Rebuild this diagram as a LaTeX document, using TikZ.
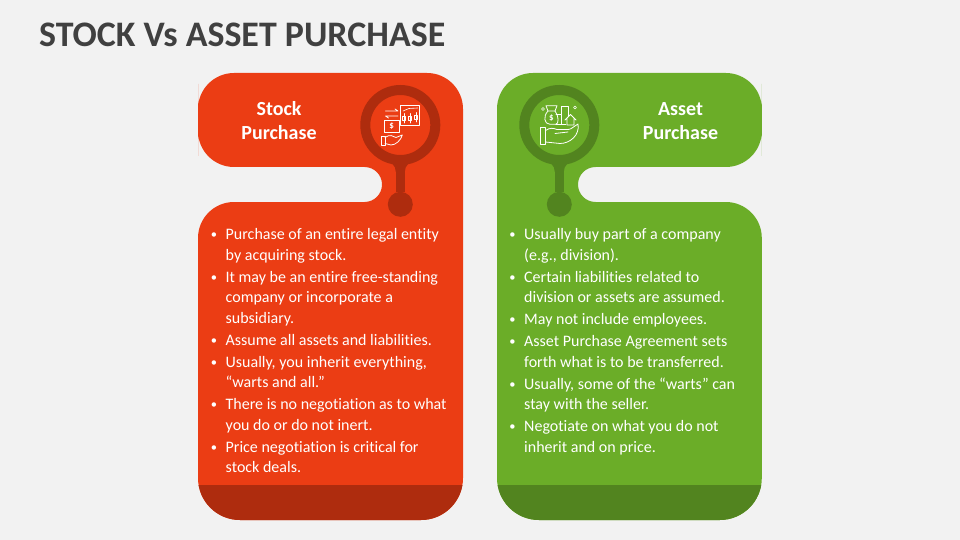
\documentclass[tikz,border=0pt]{standalone}
\usepackage{fontspec}
\setmainfont{Carlito}[Ligatures=NoCommon]
\usepackage{tikz}
\usetikzlibrary{positioning,calc}
\definecolor{pagegray}{RGB}{242,242,242}
\definecolor{titlegray}{RGB}{64,64,64}
\definecolor{stockred}{RGB}{235,61,20}
\definecolor{stockdark}{RGB}{174,44,14}
\definecolor{assetgreen}{RGB}{107,173,40}
\definecolor{assetdark}{RGB}{82,132,31}
\newcommand{\pointlines}[1]{\strut\llap{\raisebox{0.9pt}{\fontsize{12.5}{12.5}\selectfont\textbullet}\hspace{8.5pt}}#1\strut}
\tikzset{
  headtext/.style={text=white, font=\fontsize{20}{24}\selectfont\bfseries, align=center},
  pointtext/.style={text=white, font=\fontsize{16}{20.6}\selectfont, align=left, inner sep=0pt, anchor=north west},
  nextpoint/.style={below=0.9pt of #1.south west, anchor=north west},
  iconline/.style={draw=white, line width=0.8pt, line join=round, line cap=round},
}
\begin{document}
\begin{tikzpicture}[x=1pt, y=-1pt]
    \useasboundingbox[fill=pagegray] (0,0) rectangle (960,540);
    \node[text=titlegray, font=\fontsize{35.9}{40}\selectfont\bfseries, inner sep=0pt, anchor=west] (title) at (39,35) {STOCK Vs ASSET PURCHASE};

    % Panels
    \fill[stockred, rounded corners=36] (198,120) -- (198,73) -- (463,73) -- (463,300)
        [rounded corners=42] -- (463,520) -- (198,520) -- (198,300)
        [rounded corners=36] -- (198,202) -- (300,202) [rounded corners=17.5] -- (382,202) -- (382,167) -- (300,167)
        [rounded corners=36] -- (198,167) -- cycle;
    \begin{scope}
        \clip (150,485) rectangle (480,530);
        \fill[stockdark, rounded corners=42] (198,300) rectangle (463,520);
    \end{scope}
    \fill[assetgreen, rounded corners=36] (761.8,120) -- (761.8,73) -- (497,73) -- (497,300)
        [rounded corners=42] -- (497,520) -- (761.8,520) -- (761.8,300)
        [rounded corners=36] -- (761.8,202) -- (660,202) [rounded corners=17.5] -- (578,202) -- (578,167) -- (660,167)
        [rounded corners=36] -- (761.8,167) -- cycle;
    \begin{scope}
        \clip (490,485) rectangle (800,530);
        \fill[assetdark, rounded corners=42] (497,300) rectangle (761.8,520);
    \end{scope}

    % Pins
    \node[circle, draw=stockdark, line width=10pt, minimum size=70pt, inner sep=0pt] (stockring) at (400.3,125) {};
    \node[circle, fill=stockdark, minimum size=25pt, inner sep=0pt] (stockdot) at (400.3,204.3) {};
    \fill[stockdark] (384,159) .. controls (391,162) and (395.8,165) .. (395.8,172) -- (404.8,172) .. controls (404.8,165) and (409.6,162) .. (416.6,159) -- cycle;
    \draw[stockdark, line width=9pt] (stockring) -- (stockdot);
    \node[circle, draw=assetdark, line width=10pt, minimum size=70pt, inner sep=0pt] (assetring) at (559.3,125) {};
    \node[circle, fill=assetdark, minimum size=25pt, inner sep=0pt] (assetdot) at (559.3,204.3) {};
    \fill[assetdark] (543,159) .. controls (550,162) and (554.8,165) .. (554.8,172) -- (563.8,172) .. controls (563.8,165) and (568.6,162) .. (575.6,159) -- cycle;
    \draw[assetdark, line width=9pt] (assetring) -- (assetdot);

    % Heads
    \node[headtext] (stockhead) at (279,120.5) {Stock\\Purchase};
    \node[headtext] (assethead) at (680.5,121) {Asset\\Purchase};

    % Stock points
    \node[pointtext] (s1) at (225.5,225) {\pointlines{Purchase of an entire legal entity\\by acquiring stock.}};
    \node[pointtext, nextpoint=s1] (s2) {\pointlines{It may be an entire free-standing\\company or incorporate a\\subsidiary.}};
    \node[pointtext, nextpoint=s2] (s3) {\pointlines{Assume all assets and liabilities.}};
    \node[pointtext, nextpoint=s3] (s4) {\pointlines{Usually, you inherit everything,\\“warts and all.”}};
    \node[pointtext, nextpoint=s4] (s5) {\pointlines{There is no negotiation as to what\\you do or do not inert.}};
    \node[pointtext, nextpoint=s5] (s6) {\pointlines{Price negotiation is critical for\\stock deals.}};

    % Asset points
    \node[pointtext] (a1) at (524,225) {\pointlines{Usually buy part of a company\\(e.g., division).}};
    \node[pointtext, nextpoint=a1] (a2) {\pointlines{Certain liabilities related to\\division or assets are assumed.}};
    \node[pointtext, nextpoint=a2] (a3) {\pointlines{May not include employees.}};
    \node[pointtext, nextpoint=a3] (a4) {\pointlines{Asset Purchase Agreement sets\\forth what is to be transferred.}};
    \node[pointtext, nextpoint=a4] (a5) {\pointlines{Usually, some of the “warts” can\\stay with the seller.}};
    \node[pointtext, nextpoint=a5] (a6) {\pointlines{Negotiate on what you do not\\inherit and on price.}};

    % Stock icon
    \draw[iconline] (400.7,105.5) rectangle (419.7,125);
    \draw[iconline, line width=0.6pt] (403,111) -- (409,108.5) -- (417.5,108);
    \draw[iconline, line width=0.6pt] (404,113.5) -- (404,123) (410,113.5) -- (410,123) (416,112.5) -- (416,122);
    \draw[iconline] (402.8,116) rectangle (405.2,120.5) (408.8,116) rectangle (411.2,120.5) (414.8,115) rectangle (417.2,119.5);
    \draw[iconline] (385.5,111) -- (398,111) (395,109) -- (398,111);
    \draw[iconline] (385.5,116) -- (398,116) (385.5,116) -- (388.5,118);
    \draw[iconline] (384.5,120.5) rectangle (399,132.5);
    \node[text=white, font=\fontsize{9}{9}\selectfont\bfseries, inner sep=0pt] (stockdollar) at (391.7,126.5) {\$};
    \draw[iconline] (381,136) rectangle (385,145);
    \draw[iconline] (385,137.5) .. controls (390,134) and (393,136) .. (396,137.5) -- (402.3,135) .. controls (401,140) and (396,145) .. (391,145) -- (385,143.5);

    % Asset icon
    \draw[iconline] (540.3,127.7) rectangle (545.5,144.3);
    \draw[iconline] (545.5,130.5) .. controls (550,127.5) and (553,128) .. (557,129.5) -- (568,129.5) .. controls (571,129.5) and (573,127) .. (578,124) .. controls (580,135) and (570,143.5) .. (560,143.5) -- (545.5,142);
    \draw[iconline] (555,133.5) -- (568,132);
    \draw[iconline] (548,111) .. controls (543,116) and (544,124.3) .. (550,124.3) -- (555.7,124.3) .. controls (559,124.3) and (559,116) .. (555,111) -- cycle;
    \draw[iconline] (548,111) -- (546,105.7) -- (557,105.7) -- (555,111);
    \node[text=white, font=\fontsize{9}{9}\selectfont\bfseries, inner sep=0pt] (assetdollar) at (551.5,118) {\$};
    \draw[iconline] (555.7,124.3) -- (561,124.3) -- (561,114) -- (556,114);
    \draw[iconline] (561,114) -- (561,106) -- (568,106) -- (568,116) (561,124.3) -- (566,124.3);
    \draw[iconline] (565,120) -- (570.5,114.5) -- (576,120) (567,118.5) -- (567,125) -- (574,125) -- (574,118.5);
    \draw[iconline, line width=0.5pt] (541.5,109) -- (543,107.5) -- (544.5,109) -- (543,110.5) -- cycle;
    \draw[iconline, line width=0.5pt] (573.5,107.5) -- (575,106) -- (576.5,107.5) -- (575,109) -- cycle;
\end{tikzpicture}
\end{document}
